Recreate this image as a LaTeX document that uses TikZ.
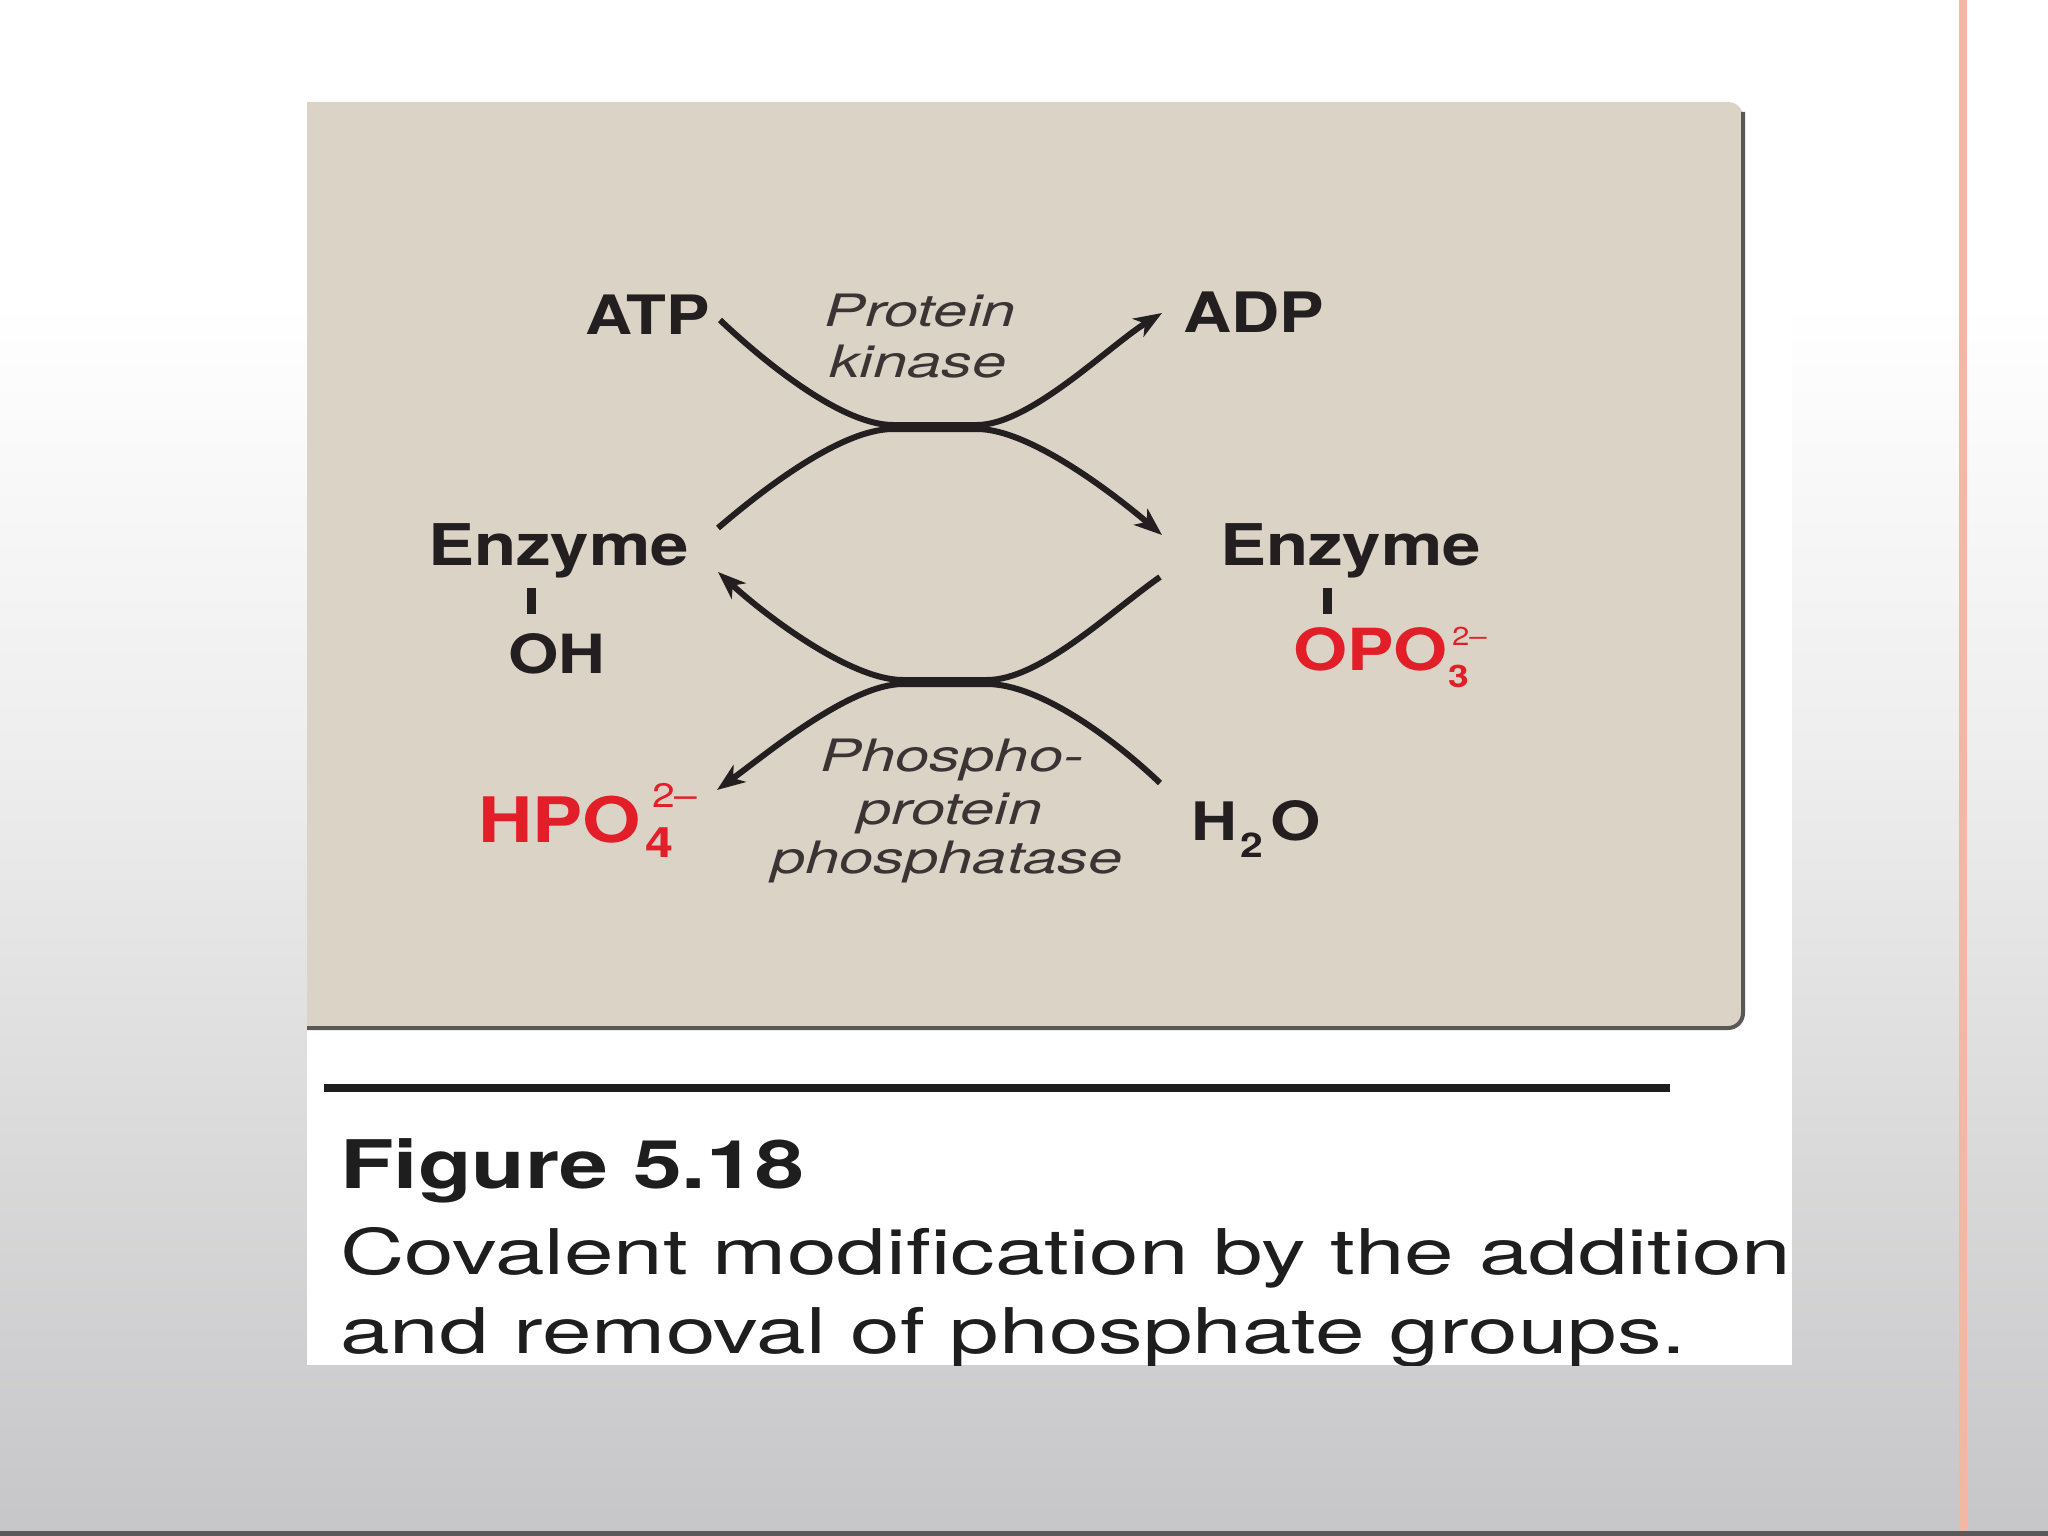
\documentclass[tikz,border=0pt]{standalone}
\usepackage{fontspec}
\usetikzlibrary{arrows.meta}
\newfontfamily\dgfont[FakeStretch=1.2]{TeX Gyre Heros}
\newfontfamily\itfont[FakeStretch=1.38]{TeX Gyre Heros}
\newfontfamily\capfontb[FakeStretch=1.31]{TeX Gyre Heros}
\newfontfamily\capfontr[FakeStretch=1.415]{TeX Gyre Heros}
\definecolor{ink}{HTML}{231F20}
\definecolor{itink}{HTML}{3A3435}
\definecolor{chemred}{HTML}{E21E28}
\definecolor{boxfill}{HTML}{DCD3C7}
\definecolor{boxedge}{HTML}{5A5757}
\definecolor{salmon}{HTML}{F5B6A4}
\definecolor{bggray}{HTML}{C6C6C8}
\definecolor{capink}{HTML}{1E1E1E}
\begin{document}
\begin{tikzpicture}[x=1pt,y=-1pt,
  txt/.style={inner sep=0pt, outer sep=0pt, anchor=base west},
  lbl/.style={txt, font={\dgfont\bfseries\fontsize{#1}{#1}\selectfont}, text=ink},
  redlbl/.style={txt, font={\dgfont\bfseries\fontsize{#1}{#1}\selectfont}, text=chemred},
  redsup/.style={txt, font={\dgfont\fontsize{#1}{#1}\selectfont}, text=chemred},
  itlbl/.style={inner sep=0pt, outer sep=0pt, anchor=base, font={\itfont\itshape\fontsize{44.6}{44.6}\selectfont}, text=itink},
  conn/.style={line width=6pt, draw=ink, -{Stealth[length=28pt,width=21pt,inset=8pt]}},
  bond/.style={line width=9pt, draw=ink}]
\useasboundingbox (0,0) rectangle (2048,1536);
% slide background
\fill[white] (0,0) rectangle (2048,300);
\shade[top color=white, bottom color=white!93!black] (0,300) rectangle (2048,768);
\shade[top color=white!93!black, bottom color=bggray] (0,768) rectangle (2048,1536);
\fill[salmon] (1959,0) rectangle (1967,1536);
\fill[black!65] (0,1531) rectangle (2048,1536);
% white image panel
\fill[white] (307,40) rectangle (1792,1365);
% figure box
\fill[boxfill] (307,102) -- (1728,102) .. controls (1736.3,102) and (1743,108.7) .. (1743,117)
  -- (1743,1013) .. controls (1743,1021.3) and (1736.3,1028) .. (1728,1028) -- (307,1028) -- cycle;
\draw[boxedge, line width=4pt] (1743,112) -- (1743,1013) .. controls (1743,1021.3) and (1736.3,1028) .. (1728,1028) -- (307,1028);
% separator and caption
\fill[capink] (324,1084) rectangle (1670,1092);
\begin{scope}
\clip (307,40) rectangle (1792,1365);
\node[txt, font={\capfontb\bfseries\fontsize{67}{67}\selectfont}, text=capink] (figno) at (340,1188) {Figure 5.18};
\node[txt, font={\capfontr\fontsize{63}{63}\selectfont}, text=capink] (cap1) at (340,1274) {Covalent modification by the addition};
\node[txt, font={\capfontr\fontsize{63}{63}\selectfont}, text=capink] (cap2) at (340,1353) {and removal of phosphate groups.};
\end{scope}
% labels
\node[lbl=54.3] (atp) at (585,334) {ATP};
\node[lbl=55.7] (adp) at (1183,332) {ADP};
\node[lbl=57.5] (enzL) at (428,565) {Enzyme};
\node[lbl=57.5] (enzR) at (1220,565) {Enzyme};
\node[lbl=54] (oh) at (508,673) {OH};
\node[redlbl=58] (opo) at (1293,670) {OPO};
\node[redlbl=31] (opo3) at (1448,687) {3};
\node[redsup=26] (opoch) at (1452,645) {2–};
\node[redlbl=62.7] (hpo) at (478,842) {HPO};
\node[redlbl=42] (hpo4) at (645,857) {4};
\node[redsup=34] (hpoch) at (652,807) {2–};
\node[lbl=53] (h2oH) at (1191,840) {H};
\node[lbl=34] (h2o2) at (1240,857) {2};
\node[lbl=54] (h2oO) at (1270,840) {O};
\node[itlbl] (pk1) at (920,326) {Protein};
\node[itlbl] (pk2) at (918,377) {kinase};
\node[itlbl] (pp1) at (952,771) {Phospho-};
\node[itlbl] (pp2) at (950,824) {protein};
\node[itlbl] (pp3) at (947,873) {phosphatase};
% bonds
\coordinate (bL1) at (531,588); \coordinate (bL2) at (531,614);
\coordinate (bR1) at (1327,588); \coordinate (bR2) at (1327,614);
\draw[bond] (bL1) -- (bL2);
\draw[bond] (bR1) -- (bR2);
% connector end points
\coordinate (atpEnd) at (720,320);
\coordinate (adpEnd) at (1162,313);
\coordinate (enzLout) at (718,528);
\coordinate (enzRin) at (1162,535);
\coordinate (enzRout) at (1160,577);
\coordinate (enzLin) at (718,572);
\coordinate (h2oEnd) at (1160,783);
\coordinate (hpoEnd) at (717,790);
\coordinate (kA1) at (893,425); \coordinate (kA2) at (977,425);
\coordinate (kB1) at (893,429); \coordinate (kB2) at (977,429);
\coordinate (pC1) at (987,680); \coordinate (pC2) at (903,680);
\coordinate (pD1) at (987,684); \coordinate (pD2) at (903,684);
% kinase reaction
\draw[conn] (atpEnd) .. controls (760,358) and (840,425) .. (kA1) -- (kA2)
  .. controls (1030,425) and (1110,345) .. (adpEnd);
\draw[conn] (enzLout) .. controls (760,492) and (840,429) .. (kB1) -- (kB2)
  .. controls (1030,429) and (1115,495) .. (enzRin);
% phosphatase reaction
\draw[conn] (enzRout) .. controls (1110,612) and (1040,680) .. (pC1) -- (pC2)
  .. controls (850,680) and (765,615) .. (enzLin);
\draw[conn] (h2oEnd) .. controls (1115,740) and (1040,684) .. (pD1) -- (pD2)
  .. controls (850,684) and (765,755) .. (hpoEnd);
\end{tikzpicture}
\end{document}
